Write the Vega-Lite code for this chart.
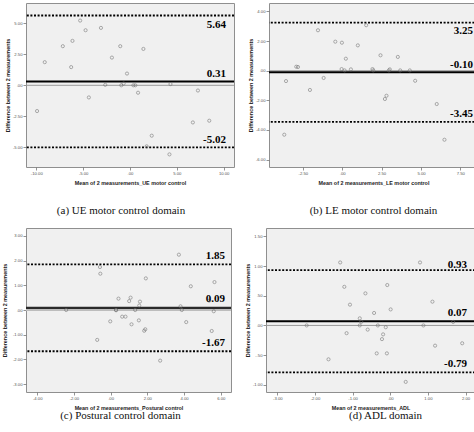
{
  "$schema": "https://vega.github.io/schema/vega-lite/v6.json",
  "padding": {"left": 2, "top": 2, "right": 0, "bottom": 0},
  "background": "white",
  "config": {
    "view": {"fill": "#f0f0f0", "stroke": "#8f8f8f", "strokeWidth": 1},
    "axis": {
      "grid": false, "domain": false, "tickSize": 3, "tickColor": "#777777", "tickWidth": 0.8,
      "labelFont": "Liberation Sans", "labelFontSize": 4.2, "labelColor": "#555555", "labelPadding": 1,
      "labelFlush": false, "labelOverlap": false,
      "labelExpr": "replace(replace(format(datum.value, '.2f'), '\u2212', '-'), regexp('^(-?)0[.]'), '$1.')",
      "titleFont": "Liberation Sans", "titleFontWeight": "bold", "titleFontSize": 5.4, "titleColor": "#222222"
    },
    "axisX": {"minExtent": 9, "maxExtent": 9, "titlePadding": 4},
    "axisY": {"minExtent": 12, "maxExtent": 12, "titlePadding": 3.5},
    "title": {"font": "Liberation Serif", "fontSize": 11, "fontWeight": "normal", "color": "#111111", "orient": "bottom", "anchor": "middle", "frame": "group"},
    "text": {"font": "Liberation Serif", "fontWeight": "bold", "fontSize": 11, "color": "black"}
  },
  "datasets": {
    "ue_pts": [
      {"x": -9.92, "y": -2.08}, {"x": -9.1, "y": 1.87}, {"x": -7.17, "y": 3.16}, {"x": -6.28, "y": 1.47},
      {"x": -6.14, "y": 3.59}, {"x": -5.32, "y": 5.23}, {"x": -4.74, "y": 4.45}, {"x": -4.39, "y": -0.98},
      {"x": -3.1, "y": 4.64}, {"x": -2.64, "y": 0.04}, {"x": -1.93, "y": 2.24}, {"x": -1.04, "y": 3.16},
      {"x": -0.93, "y": 0}, {"x": -0.68, "y": 0.15}, {"x": -0.32, "y": 0.95}, {"x": 0.36, "y": 0},
      {"x": 0.57, "y": 0}, {"x": 0.86, "y": -0.6}, {"x": 1.43, "y": 2.94}, {"x": 1.78, "y": -4.93},
      {"x": 2.32, "y": -4.07}, {"x": 4.21, "y": -5.58}, {"x": 4.32, "y": 0.1}, {"x": 6.71, "y": -3.0},
      {"x": 7.25, "y": -0.42}, {"x": 8.46, "y": -2.86}
    ],
    "ue_lines": [
      {"stat": "zero", "y": 0}, {"stat": "mean", "y": 0.31}, {"stat": "upper", "y": 5.64}, {"stat": "lower", "y": -5.02}
    ],
    "le_pts": [
      {"x": -3.57, "y": -0.7}, {"x": -3.68, "y": -4.32}, {"x": -2.92, "y": 0.27}, {"x": -2.81, "y": 0.25},
      {"x": -2.05, "y": -1.3}, {"x": -1.54, "y": 2.73}, {"x": -1.18, "y": -0.49}, {"x": -0.44, "y": 1.96},
      {"x": -0.04, "y": 0.11}, {"x": -0.02, "y": 1.89}, {"x": 0.15, "y": 0.02}, {"x": 0.23, "y": 0.81},
      {"x": 0.55, "y": 0.09}, {"x": 0.99, "y": 1.71}, {"x": 1.52, "y": 3.07}, {"x": 1.92, "y": 0.11},
      {"x": 1.97, "y": 0.02}, {"x": 2.43, "y": 1.04}, {"x": 2.71, "y": -1.91}, {"x": 2.81, "y": -1.69},
      {"x": 2.96, "y": 0.02}, {"x": 3.02, "y": 0.09}, {"x": 3.53, "y": 0.93}, {"x": 3.68, "y": 0.02},
      {"x": 4.29, "y": 0.02}, {"x": 4.63, "y": -0.68}, {"x": 6.0, "y": -2.25}, {"x": 6.49, "y": -4.66}
    ],
    "le_lines": [
      {"stat": "zero", "y": 0}, {"stat": "mean", "y": -0.1}, {"stat": "upper", "y": 3.25}, {"stat": "lower", "y": -3.45}
    ],
    "pc_pts": [
      {"x": -2.42, "y": 0}, {"x": -0.73, "y": -1.21}, {"x": -0.58, "y": 1.74}, {"x": -0.56, "y": 1.47},
      {"x": -0.02, "y": -0.46}, {"x": 0.29, "y": 0}, {"x": 0.3, "y": -0.01}, {"x": 0.43, "y": 0.46},
      {"x": 0.63, "y": -0.27}, {"x": 0.81, "y": -0.27}, {"x": 1.01, "y": 0.36}, {"x": 1.09, "y": 0.5},
      {"x": 1.14, "y": -0.58}, {"x": 1.34, "y": 0}, {"x": 1.54, "y": -0.42}, {"x": 1.56, "y": 0.18},
      {"x": 1.6, "y": 0.34}, {"x": 1.83, "y": -0.84}, {"x": 1.89, "y": -0.78}, {"x": 1.92, "y": 1.28},
      {"x": 2.7, "y": -2.05}, {"x": 3.72, "y": 2.24}, {"x": 3.81, "y": 0.15}, {"x": 3.88, "y": 0},
      {"x": 4.12, "y": -0.49}, {"x": 4.37, "y": 0.96}, {"x": 5.37, "y": 0.38}, {"x": 5.51, "y": -0.85},
      {"x": 5.62, "y": -0.05}, {"x": 5.66, "y": 1.13}
    ],
    "pc_lines": [
      {"stat": "zero", "y": 0}, {"stat": "mean", "y": 0.09}, {"stat": "upper", "y": 1.85}, {"stat": "lower", "y": -1.67}
    ],
    "adl_pts": [
      {"x": -2.22, "y": 0}, {"x": -1.64, "y": -0.57}, {"x": -1.33, "y": 1.06}, {"x": -1.22, "y": 0.65},
      {"x": -1.16, "y": -0.13}, {"x": -1.07, "y": 0.35}, {"x": -0.81, "y": 0.12}, {"x": -0.81, "y": 0},
      {"x": -0.77, "y": 0.06}, {"x": -0.66, "y": 0.54}, {"x": -0.6, "y": -0.07}, {"x": -0.43, "y": 0.21},
      {"x": -0.36, "y": -0.47}, {"x": -0.33, "y": 0}, {"x": -0.19, "y": -0.15}, {"x": -0.22, "y": -0.23},
      {"x": -0.12, "y": -0.03}, {"x": -0.09, "y": -0.47}, {"x": -0.08, "y": 0.68}, {"x": 0.01, "y": 0.27},
      {"x": 0.41, "y": -0.95}, {"x": 0.79, "y": 1.06}, {"x": 0.88, "y": 0}, {"x": 1.12, "y": 0.4},
      {"x": 1.19, "y": -0.34}, {"x": 1.67, "y": 0.06}, {"x": 1.91, "y": -0.3}
    ],
    "adl_lines": [
      {"stat": "zero", "y": 0}, {"stat": "mean", "y": 0.07}, {"stat": "upper", "y": 0.93}, {"stat": "lower", "y": -0.79}
    ]
  },
  "spacing": 10,
  "vconcat": [
    {
      "spacing": 12,
      "hconcat": [
        {
          "width": 208, "height": 164,
          "title": {"text": "(a) UE motor control domain", "offset": 20, "dx": -9},
          "encoding": {"y": {"field": "y", "type": "quantitative", "scale": {"domain": [-6.6, 6.65], "nice": false, "zero": false}, "axis": {"values": [-5, -2.5, 0, 2.5, 5], "title": "Difference between 2 measurements"}}},
          "layer": [
            {"data": {"name": "ue_lines"}, "transform": [{"filter": "datum.stat == 'zero'"}], "mark": {"type": "rule", "color": "#9a9a9a", "strokeWidth": 1}, "encoding": {}},
            {"data": {"name": "ue_lines"}, "transform": [{"filter": "datum.stat == 'mean'"}], "mark": {"type": "rule", "color": "black", "strokeWidth": 2}, "encoding": {}},
            {"data": {"name": "ue_lines"}, "transform": [{"filter": "datum.stat == 'upper' || datum.stat == 'lower'"}], "mark": {"type": "rule", "color": "black", "strokeWidth": 1.8, "strokeDash": [2, 1.6]}, "encoding": {}},
            {"data": {"name": "ue_pts"}, "mark": {"type": "point", "shape": "circle", "filled": false, "size": 10, "stroke": "#6e6e6e", "strokeWidth": 0.8},
             "encoding": {"x": {"field": "x", "type": "quantitative", "scale": {"domain": [-11.1, 11.1], "nice": false, "zero": false}, "axis": {"values": [-10, -5, 0, 5, 10], "title": "Mean of 2 measurements_UE motor control"}}}},
            {"data": {"name": "ue_lines"}, "transform": [{"filter": "datum.stat == 'upper'"}, {"calculate": "replace(format(datum.y, '.2f'), '\u2212', '-')", "as": "label"}],
             "mark": {"type": "text", "align": "right", "baseline": "middle", "dx": -8, "dy": 9},
             "encoding": {"x": {"datum": 11.1, "type": "quantitative"}, "text": {"field": "label"}}},
            {"data": {"name": "ue_lines"}, "transform": [{"filter": "datum.stat == 'mean' || datum.stat == 'lower'"}, {"calculate": "replace(format(datum.y, '.2f'), '\u2212', '-')", "as": "label"}],
             "mark": {"type": "text", "align": "right", "baseline": "middle", "dx": -8, "dy": -7},
             "encoding": {"x": {"datum": 11.1, "type": "quantitative"}, "text": {"field": "label"}}}
          ]
        },
        {
          "width": 209, "height": 164,
          "title": {"text": "(b) LE motor control domain", "offset": 20, "dx": 0},
          "encoding": {"y": {"field": "y", "type": "quantitative", "scale": {"domain": [-6.5, 4.57], "nice": false, "zero": false}, "axis": {"values": [-6, -4, -2, 0, 2, 4], "title": "Difference between 2 measurements"}}},
          "layer": [
            {"data": {"name": "le_lines"}, "transform": [{"filter": "datum.stat == 'zero'"}], "mark": {"type": "rule", "color": "#9a9a9a", "strokeWidth": 1}, "encoding": {}},
            {"data": {"name": "le_lines"}, "transform": [{"filter": "datum.stat == 'mean'"}], "mark": {"type": "rule", "color": "black", "strokeWidth": 2}, "encoding": {}},
            {"data": {"name": "le_lines"}, "transform": [{"filter": "datum.stat == 'upper' || datum.stat == 'lower'"}], "mark": {"type": "rule", "color": "black", "strokeWidth": 1.8, "strokeDash": [2, 1.6]}, "encoding": {}},
            {"data": {"name": "le_pts"}, "mark": {"type": "point", "shape": "circle", "filled": false, "size": 10, "stroke": "#6e6e6e", "strokeWidth": 0.8},
             "encoding": {"x": {"field": "x", "type": "quantitative", "scale": {"domain": [-4.65, 8.62], "nice": false, "zero": false}, "axis": {"values": [-2.5, 0, 2.5, 5, 7.5], "title": "Mean of 2 measurements_LE motor control"}}}},
            {"data": {"name": "le_lines"}, "transform": [{"filter": "datum.stat == 'upper'"}, {"calculate": "replace(format(datum.y, '.2f'), '\u2212', '-')", "as": "label"}],
             "mark": {"type": "text", "align": "right", "baseline": "middle", "dx": -5, "dy": 8},
             "encoding": {"x": {"datum": 8.62, "type": "quantitative"}, "text": {"field": "label"}}},
            {"data": {"name": "le_lines"}, "transform": [{"filter": "datum.stat == 'mean' || datum.stat == 'lower'"}, {"calculate": "replace(format(datum.y, '.2f'), '\u2212', '-')", "as": "label"}],
             "mark": {"type": "text", "align": "right", "baseline": "middle", "dx": -5, "dy": -7.5},
             "encoding": {"x": {"datum": 8.62, "type": "quantitative"}, "text": {"field": "label"}}}
          ]
        }
      ]
    },
    {
      "spacing": 12,
      "hconcat": [
        {
          "width": 205, "height": 164,
          "title": {"text": "(c) Postural control domain", "offset": 0, "dx": -8},
          "encoding": {"y": {"field": "y", "type": "quantitative", "scale": {"domain": [-3.32, 3.32], "nice": false, "zero": false}, "axis": {"values": [-3, -2, -1, 0, 1, 2, 3], "title": "Difference between 2 measurements", "minExtent": 15, "maxExtent": 15}}},
          "layer": [
            {"data": {"name": "pc_lines"}, "transform": [{"filter": "datum.stat == 'zero'"}], "mark": {"type": "rule", "color": "#bdbdbd", "strokeWidth": 2}, "encoding": {}},
            {"data": {"name": "pc_lines"}, "transform": [{"filter": "datum.stat == 'mean'"}], "mark": {"type": "rule", "color": "#2a2a2a", "strokeWidth": 2.2}, "encoding": {}},
            {"data": {"name": "pc_lines"}, "transform": [{"filter": "datum.stat == 'upper' || datum.stat == 'lower'"}], "mark": {"type": "rule", "color": "black", "strokeWidth": 1.8, "strokeDash": [2, 1.6]}, "encoding": {}},
            {"data": {"name": "pc_pts"}, "mark": {"type": "point", "shape": "circle", "filled": false, "size": 10, "stroke": "#6e6e6e", "strokeWidth": 0.8},
             "encoding": {"x": {"field": "x", "type": "quantitative", "scale": {"domain": [-4.61, 6.56], "nice": false, "zero": false}, "axis": {"values": [-4, -2, 0, 2, 4, 6], "title": "Mean of 2 measurements_Postural control"}}}},
            {"data": {"name": "pc_lines"}, "transform": [{"filter": "datum.stat != 'zero'"}, {"calculate": "replace(format(datum.y, '.2f'), '\u2212', '-')", "as": "label"}],
             "mark": {"type": "text", "align": "right", "baseline": "middle", "dx": -6, "dy": -8.5},
             "encoding": {"x": {"datum": 6.56, "type": "quantitative"}, "text": {"field": "label"}}}
          ]
        },
        {
          "width": 209, "height": 164,
          "title": {"text": "(d) ADL domain", "offset": 0, "dx": 15},
          "encoding": {"y": {"field": "y", "type": "quantitative", "scale": {"domain": [-1.12, 1.64], "nice": false, "zero": false}, "axis": {"values": [-1, -0.5, 0, 0.5, 1, 1.5], "title": "Difference between 2 measurements"}}},
          "layer": [
            {"data": {"name": "adl_lines"}, "transform": [{"filter": "datum.stat == 'zero'"}], "mark": {"type": "rule", "color": "#9a9a9a", "strokeWidth": 1}, "encoding": {}},
            {"data": {"name": "adl_lines"}, "transform": [{"filter": "datum.stat == 'mean'"}], "mark": {"type": "rule", "color": "black", "strokeWidth": 2}, "encoding": {}},
            {"data": {"name": "adl_lines"}, "transform": [{"filter": "datum.stat == 'upper' || datum.stat == 'lower'"}], "mark": {"type": "rule", "color": "black", "strokeWidth": 1.8, "strokeDash": [2, 1.6]}, "encoding": {}},
            {"data": {"name": "adl_pts"}, "mark": {"type": "point", "shape": "circle", "filled": false, "size": 10, "stroke": "#6e6e6e", "strokeWidth": 0.8},
             "encoding": {"x": {"field": "x", "type": "quantitative", "scale": {"domain": [-3.3, 2.25], "nice": false, "zero": false}, "axis": {"values": [-3, -2, -1, 0, 1, 2], "title": "Mean of 2 measurements_ADL"}}}},
            {"data": {"name": "adl_lines"}, "transform": [{"filter": "datum.stat == 'upper'"}, {"calculate": "replace(format(datum.y, '.2f'), '\u2212', '-')", "as": "label"}],
             "mark": {"type": "text", "align": "right", "baseline": "middle", "dx": -8, "dy": -5},
             "encoding": {"x": {"datum": 2.25, "type": "quantitative"}, "text": {"field": "label"}}},
            {"data": {"name": "adl_lines"}, "transform": [{"filter": "datum.stat == 'mean' || datum.stat == 'lower'"}, {"calculate": "replace(format(datum.y, '.2f'), '\u2212', '-')", "as": "label"}],
             "mark": {"type": "text", "align": "right", "baseline": "middle", "dx": -8, "dy": -8.5},
             "encoding": {"x": {"datum": 2.25, "type": "quantitative"}, "text": {"field": "label"}}}
          ]
        }
      ]
    }
  ]
}
